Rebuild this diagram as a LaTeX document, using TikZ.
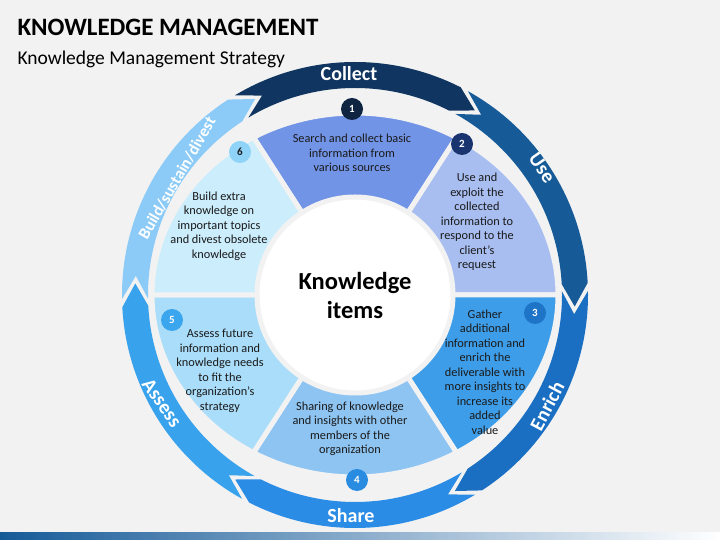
\documentclass[tikz,border=0pt]{standalone}
\usepackage{fontspec}
\setmainfont{Carlito}
\definecolor{bg}{HTML}{F2F2F2}
\definecolor{sA}{HTML}{7294E6}\definecolor{sB}{HTML}{A8BEF0}\definecolor{sC}{HTML}{3E9DE8}
\definecolor{sD}{HTML}{8EC4F2}\definecolor{sE}{HTML}{A9DDF9}\definecolor{sF}{HTML}{CBEDFC}
\definecolor{aA}{HTML}{0F3560}\definecolor{aB}{HTML}{165A98}\definecolor{aC}{HTML}{1A6FC2}
\definecolor{aD}{HTML}{2B8CE6}\definecolor{aE}{HTML}{39A2EC}\definecolor{aF}{HTML}{8CCBF7}
\definecolor{nA}{HTML}{0E2440}\definecolor{nB}{HTML}{1A3470}\definecolor{nC}{HTML}{1E74C6}
\definecolor{nD}{HTML}{2A8CE0}\definecolor{nE}{HTML}{3BA5EE}\definecolor{nF}{HTML}{8FD3F8}
\definecolor{txt}{HTML}{1A1A1A}
\tikzset{
 segtext/.style={align=center,font=\fontsize{12.3}{14.5}\selectfont,text=txt},
 numc/.style={circle,minimum size=22pt,inner sep=0pt,font=\bfseries\fontsize{11}{11}\selectfont,text=white},
 arclab/.style={font=\bfseries\fontsize{20}{20}\selectfont,text=white}
}
\newcommand{\myseg}[3]{\fill[#3,draw=bg,line width=5pt] (355,245) -- ++(#1:203 and 182) arc[start angle=#1,end angle=#2,x radius=203,y radius=182] -- cycle;}
\newcommand{\myarr}[3]{\fill[#3] (#1:233) arc[start angle=#1,end angle=#2,radius=233] -- (#2-6:220) -- (#2:207) arc[start angle=#2,end angle=#1,radius=207] -- (#1-6:220) -- cycle;}
\begin{document}
\begin{tikzpicture}[x=1pt,y=1pt]
\fill[bg] (0,0) rectangle (720,540);
\useasboundingbox (0,0) rectangle (720,540);
\shade[left color=aB,right color=white] (0,0) rectangle (720,7);
\node[anchor=west,font=\bfseries\fontsize{25}{25}\selectfont] (title) at (14,513) {KNOWLEDGE MANAGEMENT};
\node[anchor=west,font=\fontsize{19.5}{20}\selectfont] (sub) at (14,481) {Knowledge Management Strategy};
\begin{scope}[shift={(355,245)}]
\myarr{121}{63}{aA}
\myarr{61}{3}{aB}
\myarr{1}{-57}{aC}
\myarr{-59}{-117}{aD}
\myarr{-119}{-177}{aE}
\myarr{-179}{-237}{aF}
\end{scope}
\myseg{60}{120}{sA}
\myseg{0}{60}{sB}
\myseg{-60}{0}{sC}
\myseg{-120}{-60}{sD}
\myseg{180}{240}{sE}
\myseg{120}{180}{sF}
\fill[white,draw=bg,line width=5pt] (355,245) circle (98);
\node[font=\bfseries\fontsize{24.5}{29}\selectfont,align=center] (center) at (355,244) {Knowledge\\items};
\node[arclab] (lA) at (349,466) {Collect};
\node[arclab,rotate=-55] (lB) at (542,372) {Use};
\node[arclab,rotate=62] (lC) at (547,134) {Enrich};
\node[arclab] (lD) at (351,24) {Share};
\node[arclab,rotate=-55] (lE) at (162,137) {Assess};
\node[arclab,rotate=60,font=\bfseries\fontsize{16.5}{16.5}\selectfont] (lF) at (177,362) {Build/sustain/divest};
\node[numc,fill=nA] (n1) at (352,431) {1};
\node[numc,fill=nB] (n2) at (462,396) {2};
\node[numc,fill=nC] (n3) at (535,227) {3};
\node[numc,fill=nD] (n4) at (357,60) {4};
\node[numc,fill=nE] (n5) at (172,220) {5};
\node[numc,fill=nF,text=txt] (n6) at (240,388) {6};
\node[segtext] (tA) at (352,387) {Search and collect basic\\information from\\various sources};
\node[segtext] (tB) at (477,318) {Use and\\exploit the\\collected\\information to\\respond to the\\client's\\request};
\node[segtext] (tC) at (485,168) {Gather\\additional\\information and\\enrich the\\deliverable with\\more insights to\\increase its\\added\\value};
\node[segtext] (tD) at (350,111) {Sharing of knowledge\\and insights with other\\members of the\\organization};
\node[segtext] (tE) at (220,169) {Assess future\\information and\\knowledge needs\\to fit the\\organization's\\strategy};
\node[segtext] (tF) at (219,314) {Build extra\\knowledge on\\important topics\\and divest obsolete\\knowledge};
\end{tikzpicture}
\end{document}
